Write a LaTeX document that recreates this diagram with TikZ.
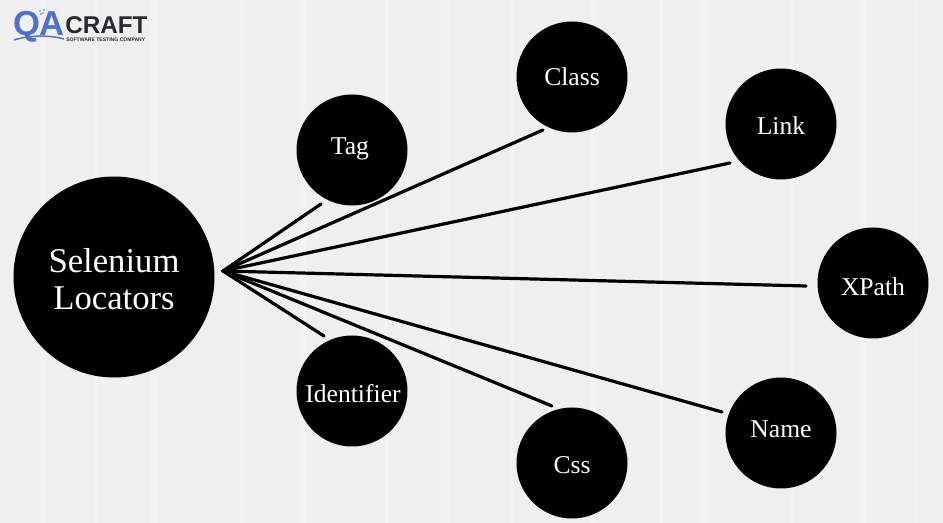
\documentclass[tikz,border=0pt]{standalone}
\usepackage{fontspec}
\setmainfont{Liberation Serif}
\newfontfamily\logofont{Liberation Sans}
\definecolor{paper}{HTML}{EFEFEF}
\definecolor{streak}{HTML}{F2F2F2}
\definecolor{logoblue}{HTML}{4F6FD0}
\definecolor{logoink}{HTML}{2A2A2E}
\tikzset{
  x=0.75pt,y=-0.75pt,
  bubble/.style={circle,fill=black,inner sep=0pt},
  caption/.style={text=white,inner sep=0pt,anchor=base,font=\fontsize{19.2}{21}\selectfont},
  bigcaption/.style={caption,font=\fontsize{26}{28}\selectfont},
  spoke/.style={draw=black,line width=2.4pt,line cap=round},
}
\begin{document}
\begin{tikzpicture}
\useasboundingbox (0,0) rectangle (943,523);
\fill[paper] (0,0) rectangle (943,523);
\foreach \xa/\w in {40/6,95/3,150/8,240/4,300/7,385/3,440/9,510/4,590/6,660/3,700/8,790/4,860/7,915/3}
  \fill[streak] (\xa,0) rectangle ++(\w,523);
% logo
\node[anchor=center,inner sep=0pt,text=logoblue,font=\logofont\bfseries\fontsize{26}{26}\selectfont] (qa) at (39,27) {QA};
\node[anchor=west,inner sep=0pt,text=logoink,font=\logofont\bfseries\fontsize{18.2}{19}\selectfont] (craft) at (65,25) {CRAFT};
\node[anchor=west,inner sep=0pt,text=logoink,font=\logofont\bfseries\fontsize{3.8}{4}\selectfont] (tagline) at (66,40) {SOFTWARE TESTING COMPANY};
\draw[logoblue,line width=1.1pt] (14,40) .. controls (30,35) and (50,35) .. (64,39);
\foreach \dx/\dy in {40/11,43/13,41/14,44/10}
  \fill[logoblue] (\dx,\dy) circle (0.7pt);
% nodes
\node[bubble,minimum size=150.75pt] (hubnode) at (114,277) {};
\node[bubble,minimum size=83.25pt] (tag) at (352,150) {};
\node[bubble,minimum size=83.25pt] (class) at (572,77) {};
\node[bubble,minimum size=83.25pt] (link) at (781,124) {};
\node[bubble,minimum size=83.25pt] (xpath) at (873,283) {};
\node[bubble,minimum size=83.25pt] (name) at (781,433) {};
\node[bubble,minimum size=83.25pt] (css) at (572,463) {};
\node[bubble,minimum size=83.25pt] (identifier) at (352,391) {};
% texts
\node[bigcaption] (t1) at (114,273) {Selenium};
\node[bigcaption] (t2) at (114,310) {Locators};
\node[caption] (t3) at (350,155) {Tag};
\node[caption] (t4) at (572,86) {Class};
\node[caption] (t5) at (781,135) {Link};
\node[caption] (t6) at (873,296) {XPath};
\node[caption] (t7) at (781,438) {Name};
\node[caption] (t8) at (572,474) {Css};
\node[caption] (t9) at (353,403) {Identifier};
% connectors
\coordinate (hub) at (223,271);
\coordinate (endtag) at (321,204);
\coordinate (endclass) at (543,130);
\coordinate (endlink) at (730,163);
\coordinate (endxpath) at (806,286);
\coordinate (endname) at (722,412);
\coordinate (endcss) at (552,406);
\coordinate (endidentifier) at (324,336);
\foreach \e in {endtag,endclass,endlink,endxpath,endname,endcss,endidentifier}
  \draw[spoke] (hub) -- (\e);
\end{tikzpicture}
\end{document}
